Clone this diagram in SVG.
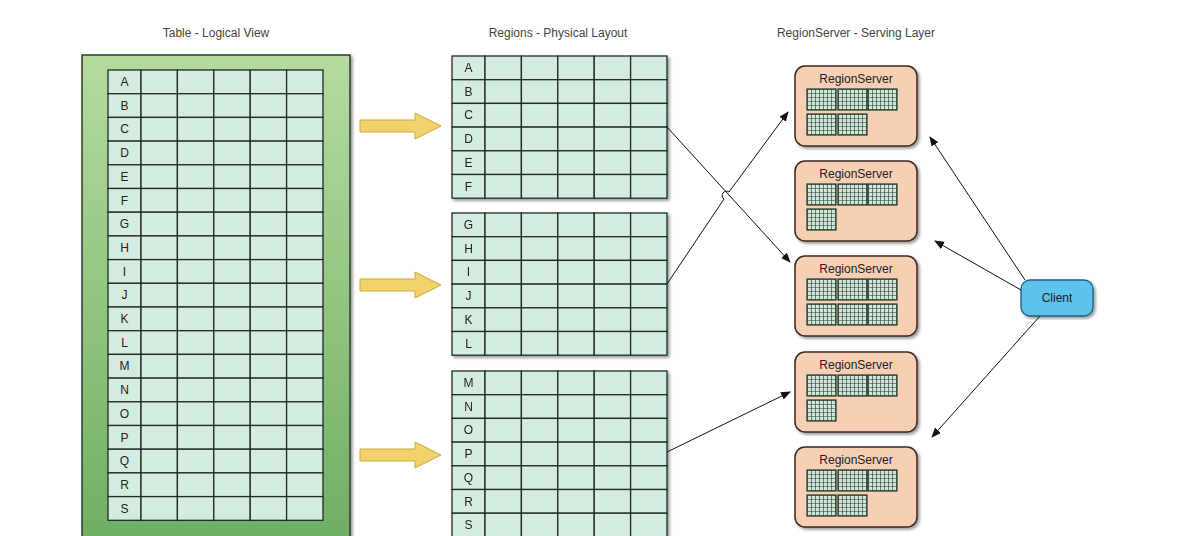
<svg xmlns="http://www.w3.org/2000/svg" width="1190" height="536" viewBox="0 0 1190 536">
<defs>
<style>
.h{font-family:"Liberation Sans",Arial,sans-serif;font-size:12px;fill:#444;text-anchor:middle}
.l{font-family:"Liberation Sans",Arial,sans-serif;font-size:12px;fill:#222;text-anchor:middle}
.g{fill:#d4ebe0;stroke:#1e2e22;stroke-width:1.3}
.rs{fill:#f7cfb3;stroke:#3a2a20;stroke-width:1.5}
.c{stroke:#111;stroke-width:1;fill:none;marker-end:url(#a)}
.ya{fill:#f2d36b;stroke:#c9a83a;stroke-width:1}
</style>
<marker id="a" markerWidth="10" markerHeight="8" refX="9" refY="4" orient="auto" markerUnits="userSpaceOnUse"><path d="M0,0L10,4L0,8z" fill="#111"/></marker>
<linearGradient id="gg" x1="0" y1="0" x2="0" y2="1"><stop offset="0" stop-color="#b6dba0"/><stop offset="1" stop-color="#6fae63"/></linearGradient>
<pattern id="mg" width="4" height="4" patternUnits="userSpaceOnUse"><rect width="4" height="4" fill="#cfe6d8"/><path d="M0,0H4M0,0V4" stroke="#1f3a2a" stroke-width="1.2"/></pattern>
<filter id="sh"><feDropShadow dx="2" dy="2" stdDeviation="1.5" flood-opacity="0.4"/></filter>
<g id="row">
<rect class="g" x="0" y="0" width="33" height="23.7"/><rect class="g" x="33" y="0" width="36.4" height="23.7"/><rect class="g" x="69.4" y="0" width="36.4" height="23.7"/><rect class="g" x="105.8" y="0" width="36.4" height="23.7"/><rect class="g" x="142.2" y="0" width="36.4" height="23.7"/><rect class="g" x="178.6" y="0" width="36.4" height="23.7"/>
</g>
<rect id="mini" width="29" height="21" fill="url(#mg)" stroke="#1f3a2a" stroke-width="1.2"/>
</defs>
<rect width="1190" height="536" fill="#fff"/>
<text class="h" x="216" y="37">Table - Logical View</text>
<text class="h" x="558" y="37">Regions - Physical Layout</text>
<text class="h" x="856" y="37">RegionServer - Serving Layer</text>

<g id="table">
<rect x="82" y="55" width="268" height="490" fill="url(#gg)" stroke="#2c3e2c" stroke-width="1.5" filter="url(#sh)"/>
<g transform="translate(108,70)">
<use href="#row" y="0"/><use href="#row" y="23.7"/><use href="#row" y="47.4"/><use href="#row" y="71.1"/><use href="#row" y="94.8"/><use href="#row" y="118.5"/><use href="#row" y="142.2"/><use href="#row" y="165.9"/><use href="#row" y="189.6"/><use href="#row" y="213.3"/><use href="#row" y="237"/><use href="#row" y="260.7"/><use href="#row" y="284.4"/><use href="#row" y="308.1"/><use href="#row" y="331.8"/><use href="#row" y="355.5"/><use href="#row" y="379.2"/><use href="#row" y="402.9"/><use href="#row" y="426.6"/>
<g class="l"><text x="16.5" y="16">A</text><text x="16.5" y="39.7">B</text><text x="16.5" y="63.4">C</text><text x="16.5" y="87.1">D</text><text x="16.5" y="110.8">E</text><text x="16.5" y="134.5">F</text><text x="16.5" y="158.2">G</text><text x="16.5" y="181.9">H</text><text x="16.5" y="205.6">I</text><text x="16.5" y="229.3">J</text><text x="16.5" y="253">K</text><text x="16.5" y="276.7">L</text><text x="16.5" y="300.4">M</text><text x="16.5" y="324.1">N</text><text x="16.5" y="347.8">O</text><text x="16.5" y="371.5">P</text><text x="16.5" y="395.2">Q</text><text x="16.5" y="418.9">R</text><text x="16.5" y="442.6">S</text></g>
</g>
</g>

<g id="region1" transform="translate(452,56)" filter="url(#sh)">
<use href="#row" y="0"/><use href="#row" y="23.7"/><use href="#row" y="47.4"/><use href="#row" y="71.1"/><use href="#row" y="94.8"/><use href="#row" y="118.5"/>
<g class="l"><text x="16.5" y="16">A</text><text x="16.5" y="39.7">B</text><text x="16.5" y="63.4">C</text><text x="16.5" y="87.1">D</text><text x="16.5" y="110.8">E</text><text x="16.5" y="134.5">F</text></g>
</g>
<g id="region2" transform="translate(452,213)" filter="url(#sh)">
<use href="#row" y="0"/><use href="#row" y="23.7"/><use href="#row" y="47.4"/><use href="#row" y="71.1"/><use href="#row" y="94.8"/><use href="#row" y="118.5"/>
<g class="l"><text x="16.5" y="16">G</text><text x="16.5" y="39.7">H</text><text x="16.5" y="63.4">I</text><text x="16.5" y="87.1">J</text><text x="16.5" y="110.8">K</text><text x="16.5" y="134.5">L</text></g>
</g>
<g id="region3" transform="translate(452,371)" filter="url(#sh)">
<use href="#row" y="0"/><use href="#row" y="23.7"/><use href="#row" y="47.4"/><use href="#row" y="71.1"/><use href="#row" y="94.8"/><use href="#row" y="118.5"/><use href="#row" y="142.2"/>
<g class="l"><text x="16.5" y="16">M</text><text x="16.5" y="39.7">N</text><text x="16.5" y="63.4">O</text><text x="16.5" y="87.1">P</text><text x="16.5" y="110.8">Q</text><text x="16.5" y="134.5">R</text><text x="16.5" y="158.2">S</text></g>
</g>

<g id="yellow-arrows">
<path class="ya" d="M360,120H415V113L441,126L415,139V132H360z"/>
<path class="ya" d="M360,279H415V272L441,285L415,298V291H360z"/>
<path class="ya" d="M360,449H415V442L441,455L415,468V461H360z"/>
</g>

<g id="rs1" transform="translate(795,66)"><rect class="rs" width="122" height="80" rx="10" filter="url(#sh)"/><text class="l" x="61" y="17" font-size="13">RegionServer</text><use href="#mini" x="12" y="23"/><use href="#mini" x="43" y="23"/><use href="#mini" x="73" y="23"/><use href="#mini" x="12" y="48"/><use href="#mini" x="43" y="48"/></g>
<g id="rs2" transform="translate(795,161)"><rect class="rs" width="122" height="80" rx="10" filter="url(#sh)"/><text class="l" x="61" y="17" font-size="13">RegionServer</text><use href="#mini" x="12" y="23"/><use href="#mini" x="43" y="23"/><use href="#mini" x="73" y="23"/><use href="#mini" x="12" y="48"/></g>
<g id="rs3" transform="translate(795,256)"><rect class="rs" width="122" height="80" rx="10" filter="url(#sh)"/><text class="l" x="61" y="17" font-size="13">RegionServer</text><use href="#mini" x="12" y="23"/><use href="#mini" x="43" y="23"/><use href="#mini" x="73" y="23"/><use href="#mini" x="12" y="48"/><use href="#mini" x="43" y="48"/><use href="#mini" x="73" y="48"/></g>
<g id="rs4" transform="translate(795,352)"><rect class="rs" width="122" height="80" rx="10" filter="url(#sh)"/><text class="l" x="61" y="17" font-size="13">RegionServer</text><use href="#mini" x="12" y="23"/><use href="#mini" x="43" y="23"/><use href="#mini" x="73" y="23"/><use href="#mini" x="12" y="48"/></g>
<g id="rs5" transform="translate(795,447)"><rect class="rs" width="122" height="80" rx="10" filter="url(#sh)"/><text class="l" x="61" y="17" font-size="13">RegionServer</text><use href="#mini" x="12" y="23"/><use href="#mini" x="43" y="23"/><use href="#mini" x="73" y="23"/><use href="#mini" x="12" y="48"/><use href="#mini" x="43" y="48"/></g>

<g id="client"><rect x="1021" y="280" width="72" height="36" rx="9" fill="#5cc3ec" stroke="#1f5f80" stroke-width="1.3" filter="url(#sh)"/><text class="l" x="1057" y="302">Client</text></g>

<g id="connectors">
<path class="c" d="M667,127L790,262"/>
<path class="c" d="M667,284L724,199A4,4 0 0 1 729,192L788,112"/>
<path class="c" d="M667,452L790,392"/>
<path class="c" d="M1025,280L930,137"/>
<path class="c" d="M1021,290L935,241"/>
<path class="c" d="M1040,316L932,437"/>
</g>
</svg>
